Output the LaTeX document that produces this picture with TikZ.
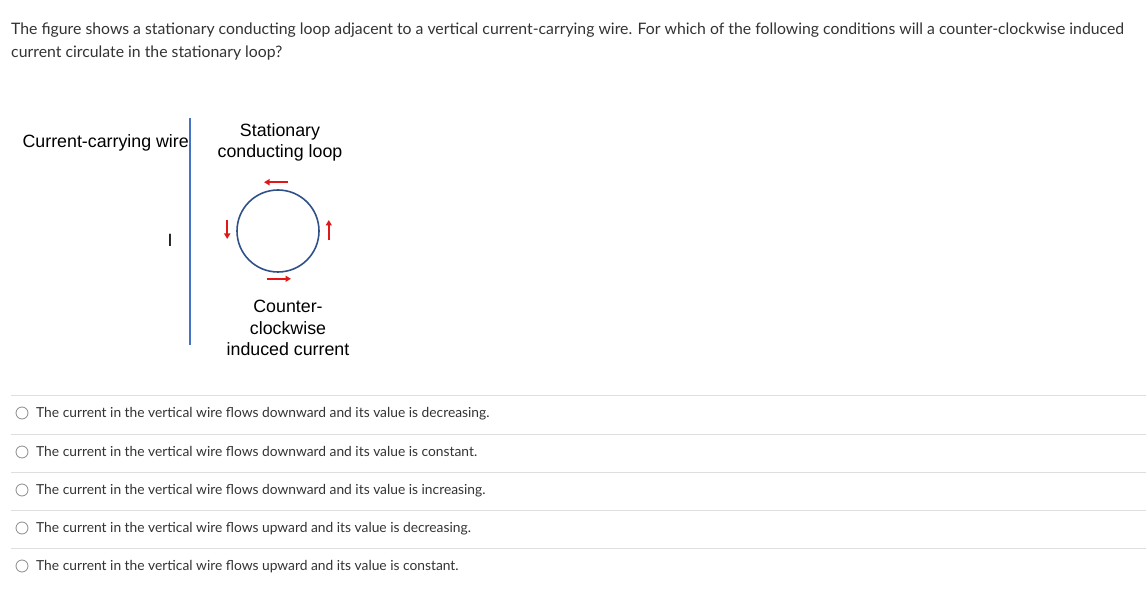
\documentclass[tikz,border=0pt]{standalone}
\usepackage{fontspec}
\setmainfont{Liberation Sans}
\newfontfamily\latofont{Lato}
\usetikzlibrary{arrows.meta, positioning}
\definecolor{wireblue}{HTML}{4472C4}
\definecolor{loopblue}{HTML}{2F5089}
\definecolor{textgray}{HTML}{333333}
\definecolor{rulegray}{HTML}{DEDEDE}
\definecolor{radiogray}{HTML}{8A8A8A}
\definecolor{flowred}{HTML}{E01818}

\tikzset{
    question/.style={anchor=base west, inner sep=0pt, text=textgray, font=\latofont\fontsize{15.8}{22}\selectfont},
    choice/.style={anchor=base west, inner sep=0pt, text=textgray, font=\latofont\fontsize{13.8}{15}\selectfont},
    figtext/.style={inner sep=0pt, align=center, font=\fontsize{17.8}{21.5}\selectfont},
    flow/.style={flowred, line width=1.9pt, -{Triangle[length=5.5pt, width=6pt]}},
    radio/.style={circle, draw=radiogray, line width=0.8pt, minimum size=12pt, inner sep=0pt},
}

\begin{document}
\begin{tikzpicture}[x=1pt, y=-1pt]
    \useasboundingbox (0,0) rectangle (1146,593);

    % Question text
    \node[question] (q1) at (11,34.5) {The figure shows a stationary conducting loop adjacent to a vertical current-carrying wire. For which of the following conditions will a counter-clockwise induced};
    \node[question] (q2) at (11,57.5) {current circulate in the stationary loop?};

    % LEFT: the wire
    \coordinate (wiretop) at (190,118);
    \coordinate (wirebot) at (190,345);
    \draw[wireblue, line width=1.3pt] (wiretop) -- (wirebot);
    \node[figtext, anchor=base east] (wirelabel) at (189,148) {Current-carrying wire};
    \node[figtext, anchor=base] (curr) at (170,247) {I};

    % RIGHT: the loop and its current
    \node[circle, draw=loopblue, line width=1.6pt, minimum size=82pt, inner sep=0pt] (loop) at (278,231) {};
    \node[figtext, anchor=base] (looplabel) at (280,158) {Stationary\\conducting loop};
    \node[figtext, anchor=base] (ccwlabel) at (288,356) {Counter-\\clockwise\\induced current};

    % Arrows round the loop
    \draw[flow] ([xshift=10pt, yshift=7pt]loop.north) -- ([xshift=-14pt, yshift=7pt]loop.north);
    \draw[flow] ([xshift=-9pt, yshift=11pt]loop.west) -- ([xshift=-9pt, yshift=-8pt]loop.west);
    \draw[flow] ([xshift=-11pt, yshift=-6pt]loop.south) -- ([xshift=13pt, yshift=-6pt]loop.south);
    \draw[flow] ([xshift=9pt, yshift=-9pt]loop.east) -- ([xshift=9pt, yshift=11pt]loop.east);

    % Answer choices
    \foreach \y/\txt [count=\i] in {
        412/{The current in the vertical wire flows downward and its value is decreasing.},
        451/{The current in the vertical wire flows downward and its value is constant.},
        489/{The current in the vertical wire flows downward and its value is increasing.},
        527/{The current in the vertical wire flows upward and its value is decreasing.},
        565/{The current in the vertical wire flows upward and its value is constant.}} {
        \draw[rulegray, line width=0.8pt] (11,\y-17) -- (1146,\y-17);
        \node[radio] (radio\i) at (22,\y+1) {};
        \node[choice] (choice\i) at (36,\y+5.5) {\txt};
    }
\end{tikzpicture}
\end{document}
